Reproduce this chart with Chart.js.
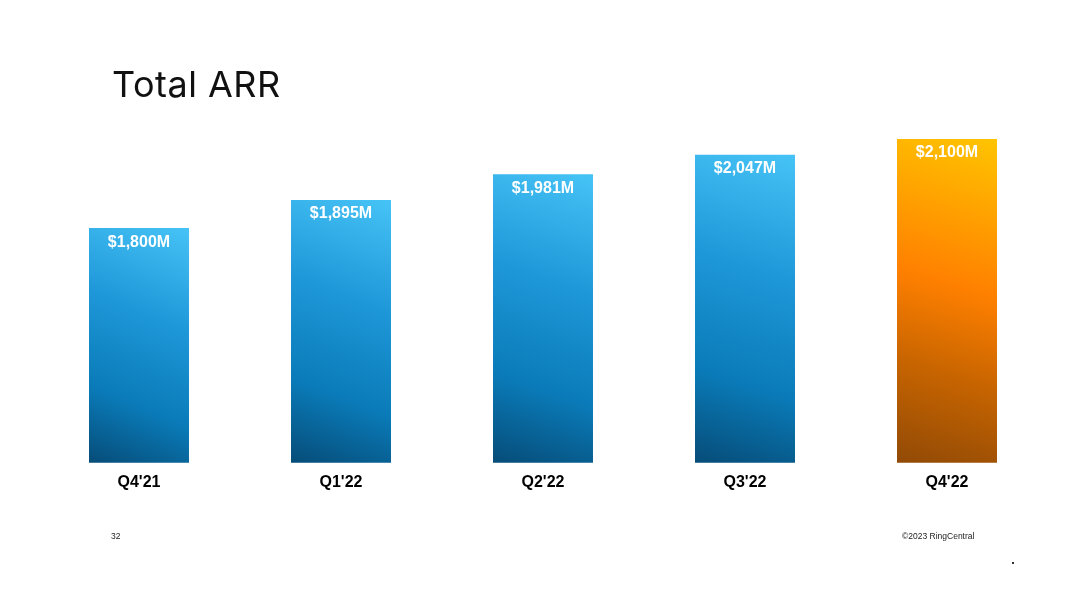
<!DOCTYPE html>
<html>
<head>
<meta charset="utf-8">
<script src="https://cdn.jsdelivr.net/npm/chart.js@4/dist/chart.umd.min.js"></script>
<style>
  html, body { margin: 0; padding: 0; background: #fff; }
  #wrap { position: relative; width: 1080px; height: 608px; overflow: hidden; }
  #chart { position: absolute; left: 0; top: 0; }
  .title { position: absolute; left: 112px; top: 62px; font-family: Inter, "Noto Sans", sans-serif; font-size: 36px; color: #111; letter-spacing: 0.5px; }
  .foot { position: absolute; top: 531px; font-family: "Liberation Sans", Arial, sans-serif; font-size: 8.5px; color: #222; }
  .dot { position: absolute; left: 1012px; top: 562px; width: 2px; height: 2px; background: #333; }
</style>
</head>
<body>
<div id="wrap">
  <canvas id="chart" width="1080" height="608"></canvas>
  <div class="title">Total ARR</div>
  <div class="foot" style="left:111px">32</div>
  <div class="foot" style="left:902px">©2023 RingCentral</div>
  <div class="dot"></div>
</div>
<script>
const quarters = ["Q4'21", "Q1'22", "Q2'22", "Q3'22", "Q4'22"];
const arr = [1800, 1895, 1981, 2047, 2100];
const valueLabels = ["$1,800M", "$1,895M", "$1,981M", "$2,047M", "$2,100M"];

// blue for past quarters, orange for the latest one
const blueStops = [[0, "#064c78"], [0.28, "#0a7bb8"], [0.62, "#1e97d8"], [1, "#46c3f6"]];
const orangeStops = [[0, "#914a06"], [0.3, "#c96500"], [0.55, "#ff8000"], [1, "#ffc400"]];

function barGradient(context) {
  const chart = context.chart;
  const { ctx, chartArea, scales } = chart;
  const stops = context.dataIndex === arr.length - 1 ? orangeStops : blueStops;
  if (!chartArea) return stops[2][1];
  const x = scales.x.getPixelForValue(context.dataIndex);
  const top = scales.y.getPixelForValue(arr[context.dataIndex]);
  const bottom = chartArea.bottom;
  const g = ctx.createLinearGradient(x - 50, bottom, x + 50, top);
  stops.forEach(([p, c]) => g.addColorStop(p, c));
  return g;
}

// white value label inside the top of each bar
const valueLabelPlugin = {
  id: "valueLabels",
  afterDatasetsDraw(chart) {
    const { ctx } = chart;
    const meta = chart.getDatasetMeta(0);
    ctx.save();
    ctx.font = "bold 16px 'Liberation Sans', Arial, sans-serif";
    ctx.fillStyle = "#ffffff";
    ctx.textAlign = "center";
    ctx.textBaseline = "middle";
    meta.data.forEach((bar, i) => {
      ctx.fillText(valueLabels[i], bar.x, bar.y + 14);
    });
    ctx.restore();
  },
};

new Chart(document.getElementById("chart"), {
  type: "bar",
  data: {
    labels: quarters,
    datasets: [
      {
        data: arr,
        backgroundColor: barGradient,
        borderWidth: 0,
        barPercentage: 0.99,
        categoryPercentage: 0.5,
      },
    ],
  },
  options: {
    responsive: false,
    animation: false,
    layout: { padding: { left: 38, right: 32, top: 139, bottom: 114 } },
    plugins: {
      legend: { display: false },
      tooltip: { enabled: false },
    },
    scales: {
      x: {
        grid: { display: false },
        border: { display: false },
        ticks: {
          color: "#000",
          padding: 2,
          font: { family: "'Liberation Sans', Arial, sans-serif", size: 16, weight: "bold" },
        },
      },
      y: {
        display: false,
        min: 1010,
        max: 2100,
      },
    },
  },
  plugins: [valueLabelPlugin],
});
</script>
</body>
</html>
